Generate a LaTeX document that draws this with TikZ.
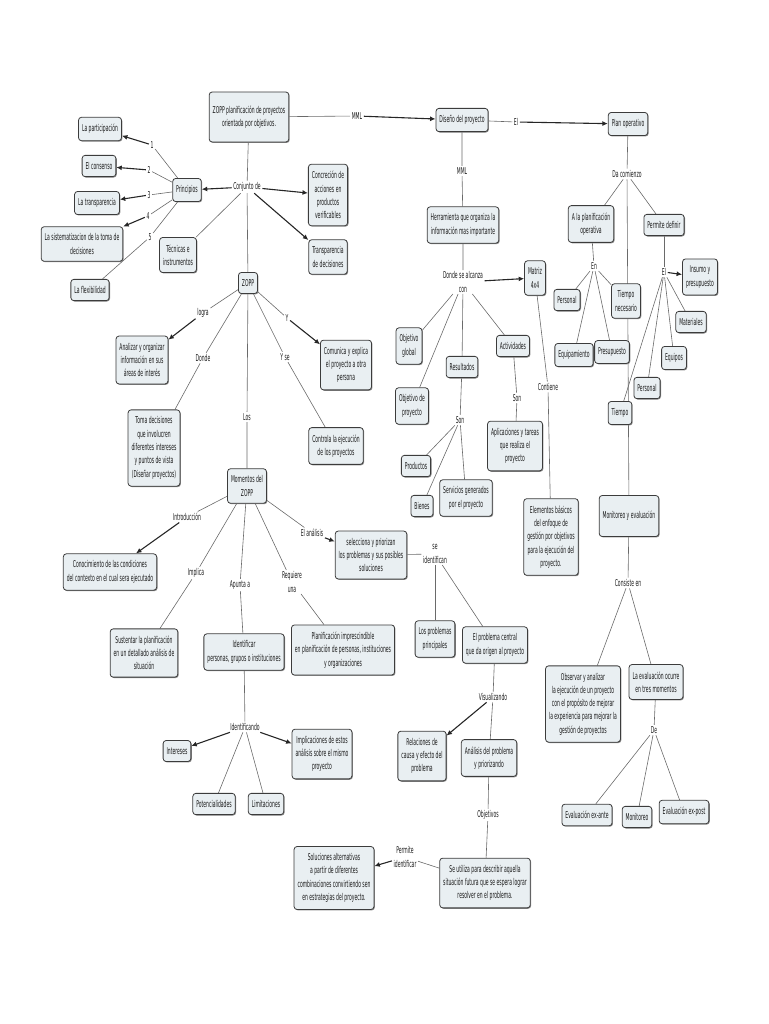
\documentclass[tikz,border=0pt]{standalone}
\usepackage{fontspec}
\setmainfont{DejaVu Sans}[FakeStretch=0.48]
\usetikzlibrary{shadows,backgrounds,arrows.meta}
\definecolor{boxfill}{HTML}{E9EFF2}
\definecolor{boxline}{HTML}{3C3C3C}
\definecolor{linkgray}{HTML}{6A6A6A}

\begin{document}
\begin{tikzpicture}[x=1pt,y=-1pt,
  every node/.style={font=\fontsize{9.4}{13.3}\selectfont, text=black!90},
  cbox/.style={draw=boxline, fill=boxfill, rounded corners=3pt, line width=0.8pt, align=center,
    inner xsep=3.5pt, inner ysep=7pt,
    drop shadow={shadow xshift=0.9pt, shadow yshift=-0.9pt, fill=black!45, opacity=1}},
  lbl/.style={align=center, inner sep=1.5pt},
  ln/.style={draw=linkgray, line width=0.6pt},
  arr/.style={draw=black!85, line width=1.1pt, -{Latex[length=5.5pt,width=5pt]}}]

  \useasboundingbox (0,0) rectangle (768,1024);

  \node[cbox, minimum width=76pt, minimum height=50pt] (zopp) at (249,117) {ZOPP planificación de proyectos\\orientada por objetivos.};
  \node[cbox] (dis) at (462,120) {Diseño del proyecto};
  \node[cbox] (plan) at (628,124) {Plan operativo};

  \node[cbox] (part) at (100,129) {La participación};
  \node[cbox] (cons) at (99,166) {El consenso};
  \node[cbox] (transp) at (97,203) {La transparencia};
  \node[cbox] (sist) at (82,244) {La sistematizacion de la toma de\\decisiones};
  \node[cbox] (flex) at (90,290) {La flexibilidad};
  \node[cbox] (princ) at (187,190) {Principios};
  \node[cbox] (concr) at (328,195) {Concreción de\\acciones en\\productos\\verificables};
  \node[cbox] (transdec) at (328,257) {Transparencia\\de decisiones};
  \node[cbox] (tecn) at (178,255) {Técnicas e\\instrumentos};
  \node[cbox] (zopp2) at (248,283) {ZOPP};

  \node[cbox] (herr) at (463,225) {Herramienta que organiza la\\información mas importante};
  \node[cbox] (matriz) at (535,278) {Matriz\\4x4};
  \node[cbox] (objg) at (409,346) {Objetivo\\global};
  \node[cbox] (objp) at (412,406) {Objetivo de\\proyecto};
  \node[cbox] (result) at (462,367) {Resultados};
  \node[cbox] (activ) at (513,346) {Actividades};
  \node[cbox] (prod) at (416,466) {Productos};
  \node[cbox] (bienes) at (422,506) {Bienes};
  \node[cbox] (serv) at (466,498) {Servicios generados\\por el proyecto};
  \node[cbox] (aplic) at (515,446) {Aplicaciones y tareas\\que realiza el\\proyecto};
  \node[cbox] (elem) at (551,537) {Elementos básicos\\del enfoque de\\gestión por objetivos\\para la ejecución del\\proyecto.};

  \node[cbox] (aplan) at (591,224) {A la planificación\\operativa};
  \node[cbox] (perm) at (664,225) {Permite definir};
  \node[cbox] (insumo) at (700,277) {Insumo y\\presupuesto};
  \node[cbox] (pers1) at (567,300) {Personal};
  \node[cbox] (tiempon) at (626,301) {Tiempo\\necesario};
  \node[cbox] (equipam) at (574,355) {Equipamiento};
  \node[cbox] (presup) at (612,352) {Presupuesto};
  \node[cbox] (mater) at (691,322) {Materiales};
  \node[cbox] (equipos) at (674,358) {Equipos};
  \node[cbox] (pers2) at (647,388) {Personal};
  \node[cbox] (tiempo) at (620,413) {Tiempo};

  \node[cbox] (anal) at (142,360) {Analizar y organizar\\información en sus\\áreas de interés};
  \node[cbox] (toma) at (154,448) {Toma decisiones\\que involucren\\diferentes intereses\\y puntos de vista\\(Diseñar proyectos)};
  \node[cbox] (comun) at (346,365) {Comunica y explica\\el proyecto a otra\\persona};
  \node[cbox] (contr) at (336,446) {Controla la ejecución\\de los proyectos};
  \node[cbox] (mom) at (247,486) {Momentos del\\ZOPP};

  \node[cbox] (conoc) at (110,572) {Conocimiento de las condiciones\\del contexto en el cual sera ejecutado};
  \node[cbox] (selec) at (371,555) {selecciona y priorizan\\los problemas y sus posibles\\soluciones};
  \node[cbox] (sust) at (144,653) {Sustentar la planificación\\en un detallado análisis de\\situación};
  \node[cbox] (ident) at (244,652) {Identificar\\personas, grupos o instituciones};
  \node[cbox] (planif) at (343,650) {Planificación imprescindible\\en planificación de personas, instituciones\\y organizaciones};
  \node[cbox] (inter) at (177,751) {Intereses};
  \node[cbox] (implic) at (322,754) {Implicaciones de estos\\análisis sobre el mismo\\proyecto};
  \node[cbox] (poten) at (214,804) {Potencialidades};
  \node[cbox] (limit) at (266,804) {Limitaciones};

  \node[cbox] (probp) at (435,639) {Los problemas\\principales};
  \node[cbox] (probc) at (495,645) {El problema central\\que da origen al proyecto};
  \node[cbox] (relac) at (422,756) {Relaciones de\\causa y efecto del\\problema};
  \node[cbox] (analp) at (489,758) {Análisis del problema\\y priorizando};
  \node[cbox] (soluc) at (334,878) {Soluciones alternativas\\a partir de diferentes\\combinaciones convirtiendo sen\\en estrategias del proyecto.};
  \node[cbox] (seut) at (485,883) {Se utiliza para describir aquella\\situación futura que se espera lograr\\resolver en el problema.};

  \node[cbox, minimum height=41pt] (monit) at (629,516) {Monitoreo y evaluación};
  \node[cbox] (obs) at (583,704) {Observar y analizar\\la ejecución de un proyecto\\con el propósito de mejorar\\la experiencia para mejorar la\\gestión de proyectos};
  \node[cbox] (laeval) at (656,682) {La evaluación ocurre\\en tres momentos};
  \node[cbox] (exante) at (587,815) {Evaluación ex-ante};
  \node[cbox] (monit2) at (637,817) {Monitoreo};
  \node[cbox] (expost) at (684,812) {Evaluación ex-post};

  \node[lbl] (lmml1) at (357,116) {MML};
  \node[lbl] (lel1) at (516,122) {El};
  \node[lbl] (lconj) at (247,187) {Conjunto de};
  \node[lbl] (l1) at (152,145) {1};
  \node[lbl] (l2) at (149,170) {2};
  \node[lbl] (l3) at (149,195) {3};
  \node[lbl] (l4) at (148,216) {4};
  \node[lbl] (l5) at (150,237) {5};
  \node[lbl] (lmml2) at (462,171) {MML};
  \node[lbl] (ldonde) at (463,282) {Donde se alcanza\\con};
  \node[lbl] (lda) at (627,174) {Da comienzo};
  \node[lbl] (len) at (594,266) {En};
  \node[lbl] (lel2) at (664,272) {El};
  \node[lbl] (lcont) at (548,387) {Contiene};
  \node[lbl] (lson1) at (460,420) {Son};
  \node[lbl] (lson2) at (517,398) {Son};
  \node[lbl] (llogra) at (203,313) {logra};
  \node[lbl] (ldonde2) at (203,358) {Donde};
  \node[lbl] (llos) at (247,417) {Los};
  \node[lbl] (ly) at (287,318) {Y};
  \node[lbl] (lyse) at (285,357) {Y se};
  \node[lbl] (lintro) at (187,517) {Introducción};
  \node[lbl] (lanal) at (312,533) {El análisis};
  \node[lbl] (limpl) at (196,573) {Implica};
  \node[lbl] (lapun) at (240,585) {Apunta a};
  \node[lbl] (lreq) at (292,582) {Requiere\\una};
  \node[lbl] (lidtf) at (245,727) {Identificando};
  \node[lbl] (lseid) at (435,554) {se\\identifican};
  \node[lbl] (lvis) at (493,697) {Visualizando};
  \node[lbl] (lobj) at (488,815) {Objetivos};
  \node[lbl] (lperm) at (405,857) {Permite\\identificar};
  \node[lbl] (lcons) at (628,583) {Consiste en};
  \node[lbl] (lde) at (654,730) {De};

  \begin{scope}[on background layer]
    \draw[ln] (zopp) -- (lmml1);
    \draw[arr] (lmml1) -- (dis);
    \draw[ln] (dis) -- (lel1);
    \draw[arr] (lel1) -- (plan);

    \draw[ln] (zopp) -- (lconj);
    \draw[arr] (lconj) -- (princ);
    \draw[arr] (lconj) -- (concr);
    \draw[arr] (lconj) -- (transdec);
    \draw[ln] (lconj) -- (tecn);
    \draw[ln] (lconj) -- (zopp2);
    \draw[ln] (princ) -- (l1);
    \draw[arr] (l1) -- (part);
    \draw[ln] (princ) -- (l2);
    \draw[arr] (l2) -- (cons);
    \draw[ln] (princ) -- (l3);
    \draw[arr] (l3) -- (transp);
    \draw[ln] (princ) -- (l4);
    \draw[arr] (l4) -- (sist);
    \draw[ln] (princ) -- (l5) -- (flex);

    \draw[ln] (dis) -- (lmml2) -- (herr) -- (ldonde);
    \draw[arr] (ldonde) -- (matriz);
    \draw[ln] (ldonde) -- (objg);
    \draw[ln] (ldonde) -- (objp);
    \draw[ln] (ldonde) -- (result);
    \draw[ln] (ldonde) -- (activ);
    \draw[ln] (matriz) -- (lcont) -- (elem);
    \draw[ln] (result) -- (lson1);
    \draw[ln] (lson1) -- (prod);
    \draw[ln] (lson1) -- (bienes);
    \draw[ln] (lson1) -- (serv);
    \draw[ln] (activ) -- (lson2) -- (aplic);

    \draw[ln] (plan) -- (lda);
    \draw[ln] (lda) -- (aplan);
    \draw[ln] (lda) -- (perm);
    \draw[ln] (lda) -- (monit);
    \draw[ln] (aplan) -- (len);
    \draw[ln] (len) -- (pers1);
    \draw[ln] (len) -- (equipam);
    \draw[ln] (len) -- (presup);
    \draw[ln] (len) -- (tiempon);
    \draw[ln] (perm) -- (lel2);
    \draw[arr] (lel2) -- (insumo);
    \draw[ln] (lel2) -- (mater);
    \draw[ln] (lel2) -- (equipos);
    \draw[ln] (lel2) -- (pers2);
    \draw[ln] (lel2) -- (tiempo);
    \draw[ln] (monit) -- (lcons);
    \draw[ln] (lcons) -- (obs);
    \draw[ln] (lcons) -- (laeval);
    \draw[ln] (laeval) -- (lde);
    \draw[ln] (lde) -- (exante);
    \draw[ln] (lde) -- (monit2);
    \draw[ln] (lde) -- (expost);

    \draw[ln] (zopp2) -- (llogra);
    \draw[arr] (llogra) -- (anal);
    \draw[ln] (zopp2) -- (ldonde2) -- (toma);
    \draw[ln] (zopp2) -- (ly);
    \draw[arr] (ly) -- (comun);
    \draw[ln] (zopp2) -- (lyse) -- (contr);
    \draw[ln] (zopp2) -- (llos) -- (mom);

    \draw[ln] (mom) -- (lintro);
    \draw[arr] (lintro) -- (conoc);
    \draw[ln] (mom) -- (limpl) -- (sust);
    \draw[ln] (mom) -- (lapun) -- (ident);
    \draw[ln] (mom) -- (lreq) -- (planif);
    \draw[ln] (mom) -- (lanal);
    \draw[arr] (lanal) -- (selec);
    \draw[ln] (ident) -- (lidtf);
    \draw[arr] (lidtf) -- (inter);
    \draw[arr] (lidtf) -- (implic);
    \draw[ln] (lidtf) -- (poten);
    \draw[ln] (lidtf) -- (limit);

    \draw[ln] (selec) -- (lseid);
    \draw[ln] (lseid) -- (probp);
    \draw[ln] (lseid) -- (probc);
    \draw[ln] (probc) -- (lvis);
    \draw[arr] (lvis) -- (relac);
    \draw[ln] (lvis) -- (analp);
    \draw[ln] (analp) -- (lobj) -- (seut);
    \draw[ln] (seut) -- (lperm);
    \draw[arr] (lperm) -- (soluc);
  \end{scope}
\end{tikzpicture}
\end{document}
